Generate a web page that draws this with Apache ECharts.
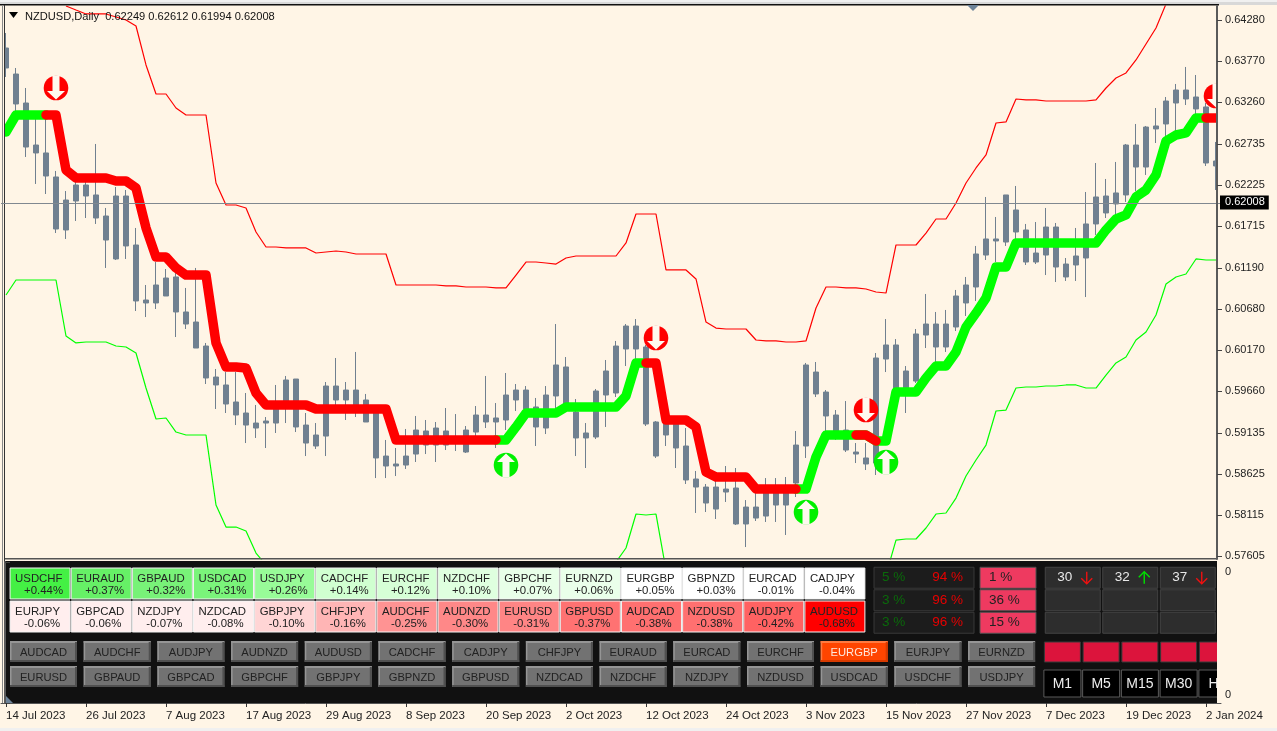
<!DOCTYPE html>
<html><head><meta charset="utf-8">
<style>html,body{margin:0;padding:0;background:#f0f0f0;overflow:hidden}#c{width:1277px;height:731px}</style>
<script src="https://cdn.jsdelivr.net/npm/echarts@6/dist/echarts.min.js"></script>
</head><body><div id="c"></div>
<script>
const _ = null;
const categories = ["14 Jul 2023","17 Jul 2023","18 Jul 2023","19 Jul 2023","20 Jul 2023","21 Jul 2023","24 Jul 2023","25 Jul 2023","26 Jul 2023","27 Jul 2023","28 Jul 2023","31 Jul 2023",
"1 Aug 2023","2 Aug 2023","3 Aug 2023","4 Aug 2023","7 Aug 2023","8 Aug 2023","9 Aug 2023","10 Aug 2023","11 Aug 2023","14 Aug 2023","15 Aug 2023","16 Aug 2023","17 Aug 2023","18 Aug 2023","21 Aug 2023","22 Aug 2023","23 Aug 2023","24 Aug 2023","25 Aug 2023","28 Aug 2023","29 Aug 2023","30 Aug 2023","31 Aug 2023",
"1 Sep 2023","4 Sep 2023","5 Sep 2023","6 Sep 2023","7 Sep 2023","8 Sep 2023","11 Sep 2023","12 Sep 2023","13 Sep 2023","14 Sep 2023","15 Sep 2023","18 Sep 2023","19 Sep 2023","20 Sep 2023","21 Sep 2023","22 Sep 2023","25 Sep 2023","26 Sep 2023","27 Sep 2023","28 Sep 2023","29 Sep 2023",
"2 Oct 2023","3 Oct 2023","4 Oct 2023","5 Oct 2023","6 Oct 2023","9 Oct 2023","10 Oct 2023","11 Oct 2023","12 Oct 2023","13 Oct 2023","16 Oct 2023","17 Oct 2023","18 Oct 2023","19 Oct 2023","20 Oct 2023","23 Oct 2023","24 Oct 2023","25 Oct 2023","26 Oct 2023","27 Oct 2023","30 Oct 2023","31 Oct 2023",
"1 Nov 2023","2 Nov 2023","3 Nov 2023","6 Nov 2023","7 Nov 2023","8 Nov 2023","9 Nov 2023","10 Nov 2023","13 Nov 2023","14 Nov 2023","15 Nov 2023","16 Nov 2023","17 Nov 2023","20 Nov 2023","21 Nov 2023","22 Nov 2023","23 Nov 2023","24 Nov 2023","27 Nov 2023","28 Nov 2023","29 Nov 2023","30 Nov 2023",
"1 Dec 2023","4 Dec 2023","5 Dec 2023","6 Dec 2023","7 Dec 2023","8 Dec 2023","11 Dec 2023","12 Dec 2023","13 Dec 2023","14 Dec 2023","15 Dec 2023","18 Dec 2023","19 Dec 2023","20 Dec 2023","21 Dec 2023","22 Dec 2023","26 Dec 2023","27 Dec 2023","28 Dec 2023","29 Dec 2023","2 Jan 2024","3 Jan 2024"];

const opens = [0.63931,0.63607,0.63246,0.62723,0.62624,0.62325,0.61665,0.62026,0.62225,0.62101,
0.61839,0.61304,0.62088,0.61478,0.60793,0.60756,0.61067,0.61080,0.60644,0.60519,
0.60220,0.59834,0.59735,0.59523,0.59386,0.59261,0.59261,0.59261,0.59448,0.59809,
0.59236,0.58975,0.59099,0.59722,0.59548,0.59672,0.59548,0.59386,0.58850,0.58726,
0.58738,0.58875,0.59162,0.58987,0.59162,0.59012,0.59174,0.59149,0.59361,0.59274,
0.59299,0.59548,0.59672,0.59461,0.59199,0.59598,0.59959,0.59398,0.59075,0.59087,
0.59610,0.59635,0.60183,0.60469,0.60208,0.59274,0.59112,0.59261,0.58975,0.58564,
0.58464,0.58190,0.58439,0.58452,0.58004,0.58215,0.58103,0.58390,0.58240,0.58514,
0.58975,0.59896,0.59647,0.59361,0.59174,0.58900,0.58826,0.58763,0.60058,0.60233,
0.59697,0.59784,0.60357,0.60494,0.60208,0.60457,0.60756,0.60955,0.61353,0.61528,
0.61515,0.61914,0.61665,0.61266,0.61353,0.61702,0.61241,0.61229,0.61316,0.61740,
0.62088,0.61989,0.62101,0.62723,0.62449,0.62923,0.62985,0.63246,0.63408,0.63321,
0.63197,0.62524];
const closes = [0.63682,0.63234,0.62698,0.62624,0.62337,0.61677,0.62038,0.62225,0.62088,0.61814,
0.61540,0.62088,0.61466,0.60781,0.60756,0.60980,0.60843,0.60644,0.60494,0.60195,
0.59822,0.59735,0.59498,0.59361,0.59236,0.59199,0.59286,0.59448,0.59797,0.59212,
0.59012,0.59112,0.59722,0.59548,0.59672,0.59461,0.59274,0.58826,0.58726,0.58751,
0.58850,0.59174,0.58987,0.59199,0.58987,0.59087,0.58900,0.59361,0.59274,0.59324,
0.59610,0.59672,0.59436,0.59212,0.59610,0.59984,0.59473,0.59075,0.59137,0.59660,
0.59909,0.60220,0.60469,0.60183,0.59249,0.58850,0.59261,0.58950,0.58552,0.58464,
0.58265,0.58464,0.58402,0.58004,0.58215,0.58078,0.58390,0.58240,0.58390,0.58987,
0.59984,0.59623,0.59349,0.59149,0.58925,0.58875,0.58751,0.60071,0.60233,0.59697,
0.59909,0.60370,0.60494,0.60208,0.60494,0.60843,0.60980,0.61366,0.61553,0.61553,
0.62101,0.61640,0.61266,0.61378,0.61702,0.61204,0.61080,0.61341,0.61740,0.62076,
0.61877,0.62126,0.62723,0.62449,0.62947,0.62960,0.63271,0.63408,0.63296,0.63172,
0.62499,0.62462];
const highs = [0.64118,0.63682,0.63433,0.63122,0.63072,0.62400,0.62150,0.62337,0.62337,0.62736,
0.61939,0.62200,0.62163,0.61690,0.60980,0.61266,0.61179,0.61129,0.60943,0.61192,
0.60258,0.59934,0.59896,0.59896,0.59635,0.59486,0.59336,0.59735,0.59847,0.59809,
0.59386,0.59261,0.59772,0.60071,0.59772,0.60146,0.59623,0.59461,0.59050,0.58950,
0.59187,0.59349,0.59299,0.59274,0.59448,0.59373,0.59224,0.59473,0.59847,0.59510,
0.59884,0.59747,0.59722,0.59573,0.59722,0.60494,0.60083,0.59560,0.59261,0.59685,
0.60046,0.60283,0.60494,0.60556,0.60233,0.59286,0.59324,0.59299,0.59199,0.58664,
0.58502,0.58552,0.58726,0.58701,0.58302,0.58390,0.58576,0.58576,0.58589,0.59162,
0.60009,0.60021,0.59672,0.59423,0.59535,0.59012,0.59012,0.60133,0.60556,0.60307,
0.59971,0.60432,0.60868,0.60644,0.60669,0.60918,0.61080,0.61466,0.62076,0.61827,
0.62101,0.62213,0.61740,0.61764,0.61939,0.61752,0.61316,0.61690,0.62138,0.62499,
0.62300,0.62512,0.62736,0.62985,0.62960,0.63184,0.63321,0.63483,0.63695,0.63595,
0.63246,0.62761];
const lows = [0.63570,0.63134,0.62574,0.62238,0.62113,0.61627,0.61553,0.61777,0.61814,0.61740,
0.61192,0.61291,0.61304,0.60656,0.60581,0.60681,0.60843,0.60332,0.60432,0.60195,
0.59747,0.59436,0.59386,0.59236,0.59012,0.59075,0.58950,0.59137,0.59261,0.59149,
0.58850,0.58938,0.58850,0.59423,0.59299,0.59336,0.59274,0.58576,0.58576,0.58601,
0.58689,0.58776,0.58875,0.58776,0.58925,0.58913,0.58888,0.59050,0.59199,0.58950,
0.59174,0.59411,0.59386,0.58975,0.59124,0.59448,0.59461,0.58850,0.58701,0.59062,
0.59212,0.59585,0.59971,0.60046,0.59224,0.58826,0.58975,0.58701,0.58502,0.58141,
0.58153,0.58066,0.58278,0.57991,0.57717,0.58041,0.58029,0.58029,0.57867,0.58340,
0.58826,0.59585,0.59137,0.59050,0.58900,0.58763,0.58676,0.58614,0.59896,0.59672,
0.59386,0.59760,0.60195,0.60009,0.60146,0.60407,0.60594,0.60781,0.61291,0.61266,
0.61466,0.61540,0.61229,0.61241,0.61104,0.61017,0.61030,0.61030,0.60830,0.61603,
0.61814,0.61852,0.62014,0.62150,0.62350,0.62748,0.62823,0.62848,0.63221,0.63097,
0.62462,0.62163];

const trendUp = [0.62885,0.63097,0.63097,0.63097,0.63097,_,_,_,_,_,
_,_,_,_,_,_,_,_,_,_,
_,_,_,_,_,_,_,_,_,_,
_,_,_,_,_,_,_,_,_,_,
_,_,_,_,_,_,_,_,_,0.59050,
0.59050,0.59212,0.59386,0.59386,0.59386,0.59386,0.59461,0.59461,0.59461,0.59461,
0.59461,0.59461,0.59598,0.60009,0.60009,_,_,_,_,_,
_,_,_,_,_,_,_,_,_,0.58439,
0.58439,0.58838,0.59112,0.59112,0.59112,0.59112,0.59112,0.59037,0.59037,0.59647,
0.59647,0.59647,0.59822,0.59971,0.59971,0.60146,0.60457,0.60631,0.60818,0.61204,
0.61204,0.61503,0.61503,0.61503,0.61503,0.61503,0.61503,0.61503,0.61503,0.61503,
0.61665,0.61802,0.61852,0.62076,0.62163,0.62350,0.62773,0.62848,0.62873,0.63060,
0.63060,_];
const trendDown = [_,_,_,_,0.63097,0.63097,0.62412,0.62312,0.62312,0.62312,
0.62312,0.62275,0.62275,0.62188,0.61690,0.61329,0.61329,0.61192,0.61104,0.61104,
0.61104,0.60258,0.59959,0.59959,0.59946,0.59635,0.59486,0.59486,0.59486,0.59486,
0.59486,0.59436,0.59436,0.59436,0.59436,0.59436,0.59436,0.59436,0.59436,0.59050,
0.59050,0.59050,0.59050,0.59050,0.59050,0.59050,0.59050,0.59050,0.59050,0.59050,
_,_,_,_,_,_,_,_,_,_,
_,_,_,_,0.60009,0.60009,0.59299,0.59299,0.59299,0.59212,
0.58651,0.58589,0.58589,0.58589,0.58589,0.58439,0.58439,0.58439,0.58439,0.58439,
_,_,_,_,_,0.59112,0.59112,0.59037,_,_,
_,_,_,_,_,_,_,_,_,_,
_,_,_,_,_,_,_,_,_,_,
_,_,_,_,_,_,_,_,_,_,
0.63060,0.63060];
const upperBand = [_,_,_,_,_,_,0.64454,0.64404,0.64355,0.64355,
0.64355,0.64317,0.64280,0.64205,0.63720,0.63358,0.63358,0.63184,0.63097,0.63097,
0.63097,0.62250,0.61976,0.61976,0.61939,0.61640,0.61453,0.61453,0.61441,0.61441,
0.61441,0.61378,0.61391,0.61403,0.61391,0.61366,0.61366,0.61366,0.61366,0.60980,
0.60980,0.60980,0.60980,0.60980,0.60968,0.60968,0.60955,0.60955,0.60955,0.60943,
0.60943,0.61104,0.61266,0.61266,0.61254,0.61241,0.61316,0.61341,0.61341,0.61341,
0.61341,0.61341,0.61503,0.61864,0.61864,0.61864,0.61167,0.61167,0.61167,0.61055,
0.60519,0.60444,0.60432,0.60432,0.60432,0.60295,0.60283,0.60283,0.60270,0.60270,
0.60283,0.60693,0.60955,0.60955,0.60943,0.60943,0.60930,0.60893,0.60880,0.61478,
0.61478,0.61478,0.61627,0.61802,0.61802,0.62001,0.62250,0.62437,0.62599,0.62997,
0.63010,0.63296,0.63284,0.63284,0.63271,0.63271,0.63271,0.63271,0.63271,0.63284,
0.63433,0.63558,0.63620,0.63782,0.63981,0.64180,0.64479,_,_,_,
_,_];
const lowerBand = [0.60855,0.61042,0.61042,0.61042,0.61042,0.61042,0.60345,0.60258,0.60270,0.60270,
0.60270,0.60220,0.60208,0.60133,0.59697,0.59311,0.59324,0.59149,0.59112,0.59112,
0.59112,0.58240,0.57966,0.57966,0.57917,0.57642,0.57493,_,_,_,
_,_,_,_,_,_,_,_,_,_,
_,_,_,_,_,_,_,_,_,_,
_,_,_,_,_,_,_,_,_,_,
_,0.57530,0.57705,0.58128,0.58116,0.58128,0.57431,_,_,_,
_,_,_,_,_,_,_,_,_,_,
_,_,_,_,_,_,_,_,0.57369,0.57804,
0.57817,0.57817,0.57954,0.58128,0.58141,0.58327,0.58601,0.58801,0.58987,0.59411,
0.59423,0.59697,0.59710,0.59710,0.59722,0.59722,0.59735,0.59735,0.59697,0.59697,
0.59859,0.60009,0.60083,0.60295,0.60395,0.60606,0.60992,0.61080,0.61117,0.61304,
0.61291,0.61291];

const sellSignals = [[5,0.63433],[65,0.60320],[86,0.59423],[121,0.63334]];
const buySignals  = [[50,0.58738],[80,0.58153],[88,0.58776]];

const priceTicks = [0.64280,0.63770,0.63260,0.62735,0.62225,0.61715,0.61190,0.60680,0.60170,0.59660,0.59135,0.58625,0.58115,0.57605];
const lastPrice = 0.62008;
const headerText = "NZDUSD,Daily  0.62249 0.62612 0.61994 0.62008";

const gainerPairs = ["USDCHF","EURAUD","GBPAUD","USDCAD","USDJPY","CADCHF","EURCHF","NZDCHF","GBPCHF","EURNZD","EURGBP","GBPNZD","EURCAD","CADJPY"];
const gainerChanges = ["+0.44%","+0.37%","+0.32%","+0.31%","+0.26%","+0.14%","+0.12%","+0.10%","+0.07%","+0.06%","+0.05%","+0.03%","-0.01%","-0.04%"];
const loserPairs = ["EURJPY","GBPCAD","NZDJPY","NZDCAD","GBPJPY","CHFJPY","AUDCHF","AUDNZD","EURUSD","GBPUSD","AUDCAD","NZDUSD","AUDJPY","AUDUSD"];
const loserChanges = ["-0.06%","-0.06%","-0.07%","-0.08%","-0.10%","-0.16%","-0.25%","-0.30%","-0.31%","-0.37%","-0.38%","-0.38%","-0.42%","-0.68%"];
const buttonsRow1 = ["AUDCAD","AUDCHF","AUDJPY","AUDNZD","AUDUSD","CADCHF","CADJPY","CHFJPY","EURAUD","EURCAD","EURCHF","EURGBP","EURJPY","EURNZD"];
const buttonsRow2 = ["EURUSD","GBPAUD","GBPCAD","GBPCHF","GBPJPY","GBPNZD","GBPUSD","NZDCAD","NZDCHF","NZDJPY","NZDUSD","USDCAD","USDCHF","USDJPY"];
const activeButton = "EURGBP";
const buyPct = ["5 %","3 %","3 %"];
const sellPct = ["94 %","96 %","96 %"];
const strengthPct = ["1 %","36 %","15 %"];
const gaugeValues = ["30","32","37"];
const gaugeDirections = ["down","up","down"];
const timeframes = ["M1","M5","M15","M30","H1"];

/* styling */
const gainerFill = ["#44f044","#66f066","#78f278","#7af47a","#98fb98","#d0ffd0","#d6ffd6","#dfffdf","#e8ffe8","#eaffea","#ffffff","#ffffff","#ffffff","#ffffff"];
const loserFill = ["#ffeeee","#ffeeee","#ffeeee","#ffeeee","#ffd5d5","#ffb5b5","#ff9393","#ff8888","#ff8585","#ff7272","#ff7070","#ff7070","#ff6262","#ff0000"];
const CREAM = "#fff5e6", FF = '"Liberation Sans", Arial, sans-serif';
const font = (s,w) => (w||'normal')+' '+s+'px '+FF;
const T = (text,x,y,fill,size,align,z2) => ({type:'text',z2:z2||5,style:{text,x,y,fill,font:font(size),textAlign:align||'center',textVerticalAlign:'middle'}});
const R = (x,y,width,height,fill,stroke) => ({type:'rect',shape:{x,y,width,height},style:{fill,stroke:stroke||null,lineWidth:1}});

/* panel tables: each lives on its own tiny category grid */
const tables = [];
function table(left,top,pitchX,pitchY,cols,rows,items,draw){ tables.push({left,top,pitchX,pitchY,cols,rows,items,draw}); }

table(9.5,567,61.14,33,14,2,
  gainerPairs.map((n,i)=>[i,0,n,gainerChanges[i],gainerFill[i]]).concat(loserPairs.map((n,i)=>[i,1,n,loserChanges[i],loserFill[i]])),
  (cx,cy,d)=>[R(cx-30,cy-15.5,60,31,d[4],'#f4f4f4'),T(d[2],cx-25,cy-4.5,'#222',11.4,'left'),T(d[3],cx-16,cy+7,'#222',11.4,'left')]);

table(6.65,639,73.7,25,14,2,
  buttonsRow1.map((n,i)=>[i,0,n]).concat(buttonsRow2.map((n,i)=>[i,1,n])),
  (cx,cy,d)=>{const on=d[2]===activeButton,x=cx-33.5,y=cy-10.5,
    lite=on?'#ff7a40':'#959595',dark=on?'#d83a00':'#505050',fill=on?'#ff4500':'#727272';
    return [R(x,y,67,21,fill),R(x,y,67,2,lite),R(x,y,1.5,21,lite),R(x,y+19,67,2,dark),R(x+65,y+1,2,20,dark),
      T(d[2],cx,cy+1,on?'#ffe8dc':'#222',11.2)];});

table(874,566.5,100,22.5,1,3,
  buyPct.map((n,i)=>[0,i,n,sellPct[i]]),
  (cx,cy,d)=>[R(cx-50,cy-10.5,100,21,'#1c1c1c','#383838'),T(d[2],cx-42,cy,'#0a6a0a',13.5,'left'),T(d[3],cx+39,cy,'#e60000',13.5,'right')]);

table(980,566.5,56,22.5,1,3,
  strengthPct.map((n,i)=>[0,i,n]),
  (cx,cy,d)=>[R(cx-28,cy-10.5,56,21,'#ee3a60','#505050'),T(d[2],cx-19,cy,'#222',13.5,'left')]);

const gaugeCells=[]; for(let r=0;r<3;r++)for(let c=0;c<3;c++)gaugeCells.push(r===0?[c,r,gaugeValues[c],gaugeDirections[c]]:[c,r,'','']);
table(1044,566.5,57.5,22.5,3,3,gaugeCells,
  (cx,cy,d)=>{const els=[R(cx-27.5,cy-10.5,55,21,'#2d2d2d','#444')];
    if(d[2]){els.push(T(d[2],cx-8,cy,'#e8e8e8',13.5,'center'));
      const up=d[3]==='up',ax=cx+14,s=up?-1:1,col=up?'#00e000':'#f01010';
      els.push({type:'polyline',shape:{points:[[ax,cy-6*s],[ax,cy+6*s]]},style:{stroke:col,lineWidth:1.4,fill:null}});
      els.push({type:'polyline',shape:{points:[[ax-5.5,cy+0.5*s],[ax,cy+6*s],[ax+5.5,cy+0.5*s]]},style:{stroke:col,lineWidth:1.4,fill:null}});}
    return els;});

table(1043,642,38.75,20,5,1,timeframes.map((n,i)=>[i,0,n]),
  (cx,cy)=>[R(cx-18,cy-10,36,20,'#dc143c','#3a3a3a')]);

table(1043,670,38.75,27,5,1,timeframes.map((n,i)=>[i,0,n]),
  (cx,cy,d)=>[R(cx-18.5,cy-13.5,37,27,'#000','#5a5a5a'),T(d[2],cx,cy+1,'#eeeeee',14)]);

const grids=[{left:1,top:6,width:1220,height:553,show:true,backgroundColor:CREAM,borderWidth:0},{left:5,top:562,width:1212,height:141,show:false}];
const xAxes=[{type:'category',gridIndex:0,data:categories,offset:144,boundaryGap:true,z:6,
    axisLine:{show:true,lineStyle:{color:'#555',width:1}},
    axisTick:{show:true,interval:7,alignWithLabel:true,length:4,lineStyle:{color:'#333'}},
    axisLabel:{interval:7,align:'left',margin:7,color:'#222',fontSize:11.5,fontFamily:FF,hideOverlap:false},splitLine:{show:false}},
  {type:'value',gridIndex:1,show:false,min:0,max:1}];
const mainYCommon={type:'value',gridIndex:0,min:0.57568,max:0.64454,position:'right',offset:-4,scale:true,splitLine:{show:false},z:6};
const yAxes=[
  {...mainYCommon,axisLine:{show:true,onZero:false,lineStyle:{color:'#5a5a5a',width:2}},
   axisTick:{show:true,length:5,lineStyle:{color:'#444'},customValues:priceTicks},
   axisLabel:{customValues:priceTicks,margin:8,padding:[2,0,0,0],color:'#222',fontSize:11,fontFamily:FF,formatter:v=>v.toFixed(5),showMinLabel:true,showMaxLabel:true}},
  {...mainYCommon,z:7,axisLine:{show:false},axisTick:{show:false},
   axisLabel:{customValues:[lastPrice],margin:3,color:'#fff',backgroundColor:'#000',padding:[2,4,1,5],fontSize:11,fontFamily:FF,formatter:v=>v.toFixed(5)}},
  {type:'value',gridIndex:1,min:0,max:1,interval:1,position:'right',z:6,splitLine:{show:false},
   axisLine:{show:true,lineStyle:{color:'#5a5a5a',width:2}},axisTick:{show:true,length:5,lineStyle:{color:'#444'}},
   axisLabel:{margin:8,padding:[4,0,3,0],color:'#222',fontSize:11,fontFamily:FF,formatter:()=>'0',verticalAlignMinLabel:'bottom',verticalAlignMaxLabel:'top'}}
];

const series=[
  {type:'candlestick',name:'NZDUSD',xAxisIndex:0,yAxisIndex:0,barWidth:6,z:2,
   data:opens.map((o,i)=>[o,closes[i],lows[i],highs[i]]),
   itemStyle:{color:'#708090',color0:'#708090',borderColor:'#708090',borderColor0:'#708090',borderWidth:1},
   markLine:{silent:true,symbol:'none',label:{show:false},animation:false,lineStyle:{color:'#808890',width:1.2,type:'solid'},data:[{yAxis:lastPrice}]}},
  {type:'line',name:'Upper band',xAxisIndex:0,yAxisIndex:0,data:upperBand,symbol:'none',z:3,lineStyle:{color:'#ff0000',width:1.2}},
  {type:'line',name:'Lower band',xAxisIndex:0,yAxisIndex:0,data:lowerBand,symbol:'none',z:3,lineStyle:{color:'#00ff00',width:1.2}},
  {type:'line',name:'Trend up',xAxisIndex:0,yAxisIndex:0,data:trendUp,symbol:'none',z:3,lineStyle:{color:'#00ff00',width:9.5,cap:'round',join:'round'}},
  {type:'line',name:'Trend down',xAxisIndex:0,yAxisIndex:0,data:trendDown,symbol:'none',z:3,lineStyle:{color:'#ff0000',width:9.5,cap:'round',join:'round'}}
];
function signal(name,data,colour,dir){
  series.push({type:'custom',name,xAxisIndex:0,yAxisIndex:0,z:4,data,encode:{x:0,y:1},clip:true,
    renderItem(p,api){const c=api.coord([api.value(0),api.value(1)]),x=c[0],y=c[1],s=dir;
      return {type:'group',children:[
        {type:'circle',shape:{cx:x,cy:y,r:12.3},style:{fill:colour}},
        {type:'polygon',shape:{points:[[x-3.5,y-12.5*s],[x+3.5,y-12.5*s],[x+3.5,y+3*s],[x+9,y+3*s],[x,y+11.5*s],[x-9,y+3*s],[x-3.5,y+3*s]]},style:{fill:'#fff9f0'}}]};}});
}
signal('Sell signal',sellSignals,'#ff0000',1);
signal('Buy signal',buySignals,'#00f000',-1);

tables.forEach((t,k)=>{
  const gi=grids.length;
  grids.push({left:t.left,top:t.top,width:t.pitchX*t.cols,height:t.pitchY*t.rows,show:false});
  xAxes.push({type:'category',gridIndex:gi,show:false,data:Array.from({length:t.cols},(_x,i)=>i)});
  yAxes.push({type:'category',gridIndex:gi,show:false,inverse:true,data:Array.from({length:t.rows},(_x,i)=>i)});
  series.push({type:'custom',name:'panel'+k,xAxisIndex:xAxes.length-1,yAxisIndex:yAxes.length-1,z:2,clip:false,
    data:t.items.map(d=>({value:[d[0],d[1]]})),encode:{x:0,y:1},
    renderItem(p,api){const c=api.coord([api.value(0),api.value(1)]);
      return {type:'group',children:t.draw(c[0],c[1],t.items[p.dataIndex])};}});
});

const graphicEls=[
  {type:'rect',z:1,shape:{x:5,y:561,width:1212,height:142},style:{fill:'#111111'}},
  {type:'polygon',z:3,shape:{points:[[5,703],[13,703],[5,695]]},style:{fill:'#6d8399'}},
  /* window chrome over the plot edges */
  {type:'rect',z:5,shape:{x:1217,y:0,width:60,height:731},style:{fill:CREAM}},
  {type:'rect',z:5,shape:{x:0,y:0,width:5,height:731},style:{fill:CREAM}},
  {type:'rect',z:5,shape:{x:0,y:0,width:1277,height:5},style:{fill:'#d8d8d8'}},
  {type:'rect',z:5,shape:{x:0,y:0,width:1277,height:2},style:{fill:'#f0f0f0'}},
  {type:'rect',z:5,shape:{x:0,y:4,width:1219,height:1.5},style:{fill:'#111'}},
  {type:'rect',z:5,shape:{x:4,y:5,width:1,height:698},style:{fill:'#333'}},
  {type:'rect',z:5,shape:{x:2,y:5,width:1,height:698},style:{fill:'#888'}},
  {type:'rect',z:5,shape:{x:5,y:558,width:1212,height:1.5},style:{fill:'#555'}},
  {type:'rect',z:5,shape:{x:0,y:728,width:1277,height:3},style:{fill:'#f0f0f0'}},
  {type:'polygon',z:5,shape:{points:[[9,12],[18,12],[13.5,18]]},style:{fill:'#000'}},
  {type:'polygon',z:5,shape:{points:[[967,5],[979,5],[973,11]]},style:{fill:'#6d8399'}},
  {type:'text',z:9,style:{text:headerText,x:25,y:17,fill:'#111',font:font(11.1),textVerticalAlign:'middle'}}
];

const chart=echarts.init(document.getElementById('c'),null,{renderer:'canvas',width:1277,height:731});
chart.setOption({animation:false,backgroundColor:CREAM,tooltip:{show:false},legend:{show:false},
  grid:grids,xAxis:xAxes,yAxis:yAxes,series,graphic:{elements:graphicEls}});
</script></body></html>
